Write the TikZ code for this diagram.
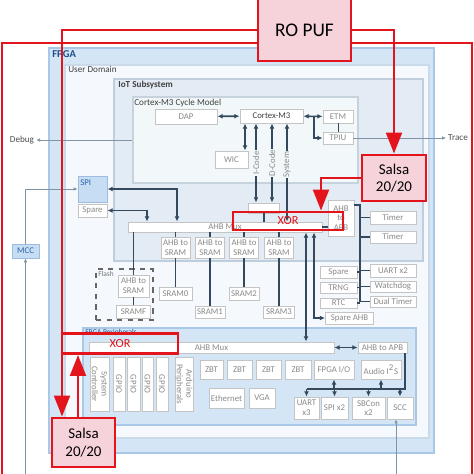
\documentclass[tikz,border=0pt]{standalone}
\usepackage{fontspec}
\setmainfont{Carlito}
\usetikzlibrary{arrows.meta}

\definecolor{fpgafill}{HTML}{D4E5F6}
\definecolor{fpgaline}{HTML}{A9C7E6}
\definecolor{userfill}{HTML}{F5F9FD}
\definecolor{userline}{HTML}{C9DAEA}
\definecolor{iotfill}{HTML}{E3ECF5}
\definecolor{iotline}{HTML}{BFCEDD}
\definecolor{cyclefill}{HTML}{F2F8F9}
\definecolor{cycleline}{HTML}{C6D3DC}
\definecolor{boxline}{HTML}{C4C4C4}
\definecolor{boxtext}{HTML}{8A8A8A}
\definecolor{spifill}{HTML}{C6DDF4}
\definecolor{spiline}{HTML}{9DBDDF}
\definecolor{spitext}{HTML}{2F63A8}
\definecolor{buscol}{HTML}{34495E}
\definecolor{thincol}{HTML}{8193A6}
\definecolor{titleblue}{HTML}{1F4E8C}
\definecolor{pufred}{HTML}{E3141B}
\definecolor{pufpink}{HTML}{F6D3DB}

\begin{document}
\begin{tikzpicture}[x=0.02cm,y=-0.02cm,
    wh/.style 2 args={minimum width=#1*0.02cm,minimum height=#2*0.02cm}]
\useasboundingbox (0,0) rectangle (474,474);

% frames
\begin{scope}[every node/.style={rectangle,inner sep=0pt,line width=0.6pt}]
    \node[fill=fpgafill,draw=fpgaline,wh={385}{405}] (fpga) at (241.5,250.5) {};
    \node[fill=userfill,draw=userline,wh={364}{373}] (user) at (247,251.5) {};
    \node[fill=iotfill,draw=iotline,wh={309}{182}] (iot) at (268.5,170) {};
    \node[fill=cyclefill,draw=cycleline,wh={225}{86}] (cycle) at (245.5,140) {};
    \node[fill=fpgafill,draw=fpgaline,wh={333}{97}] (periph) at (249.5,376.5) {};
    \node[draw=black!60,dashed,line width=0.7pt,wh={57}{51}] (flash) at (124.5,294.5) {};
\end{scope}

% titles
\begin{scope}[every node/.style={anchor=north west,inner sep=0pt,text=black!75,font=\fontsize{5.2}{6}\selectfont}]
    \node[text=titleblue,font=\fontsize{6}{7}\selectfont\bfseries] (fpgatitle) at (52,50) {FPGA};
    \node (usertitle) at (68,66) {User Domain};
    \node[font=\fontsize{5.2}{6}\selectfont\bfseries] (iottitle) at (118,81) {IoT Subsystem};
    \node (cycletitle) at (134,99) {Cortex-M3 Cycle Model};
    \node[text=titleblue,font=\fontsize{4.2}{5}\selectfont] (periphtitle) at (85,329) {FPGA Peripherals};
    \node[text=black!55,font=\fontsize{4.2}{5}\selectfont] (flashtitle) at (98,271) {Flash};
\end{scope}

% blocks
\begin{scope}[every node/.style={rectangle,draw=boxline,fill=white,text=boxtext,inner sep=0pt,
              align=center,line width=0.5pt,font=\fontsize{5}{5.5}\selectfont}]
    \node[wh={62}{15}] (dap) at (186,116.5) {DAP};
    \node[wh={63}{14},text=black!75] (cm3) at (271.5,116) {Cortex-M3};
    \node[wh={30}{13}] (etm) at (338,116.5) {ETM};
    \node[wh={30}{12}] (tpiu) at (338,138) {TPIU};
    \node[wh={33}{17}] (wic) at (231.5,159.5) {WIC};
    \node[wh={31}{10}] (cmux) at (264,208) {};

    \node[wh={29}{13}] (sparea) at (92.5,210.5) {Spare};
    \node[wh={194}{10}] (ahbmux) at (225,227) {AHB Mux};
    \node[wh={26}{36}] (ahbahb) at (341,218) {AHB\\to\\APB};
    \node[wh={29}{21}] (ahbsrama) at (175.5,247.5) {AHB to\\SRAM};
    \node[wh={29}{21}] (ahbsramb) at (210,247.5) {AHB to\\SRAM};
    \node[wh={29}{21}] (ahbsramc) at (244,247.5) {AHB to\\SRAM};
    \node[wh={29}{21}] (ahbsramd) at (279,247.5) {AHB to\\SRAM};
    \node[wh={33}{13}] (srama) at (175.5,293.5) {SRAM0};
    \node[wh={30}{12}] (sramb) at (210,312) {SRAM1};
    \node[wh={30}{13}] (sramc) at (244,293.5) {SRAM2};
    \node[wh={31}{12}] (sramd) at (279,312) {SRAM3};
    \node[wh={31}{22}] (flashsram) at (133.5,286) {AHB to\\SRAM};
    \node[wh={34}{13}] (sramf) at (133.5,311.5) {SRAMF};

    \node[wh={46}{13}] (timera) at (393,217.5) {Timer};
    \node[wh={46}{12}] (timerb) at (393,237) {Timer};
    \node[wh={46}{13}] (uartb) at (393,270.5) {UART x2};
    \node[wh={46}{11}] (wdog) at (393,286.5) {Watchdog};
    \node[wh={46}{11}] (dtimer) at (393,301.5) {Dual Timer};
    \node[wh={37}{12}] (sparec) at (338.5,272) {Spare};
    \node[wh={37}{11}] (trng) at (338.5,287.5) {TRNG};
    \node[wh={37}{10}] (rtc) at (338.5,303) {RTC};
    \node[wh={48}{12}] (spareahb) at (349.5,318) {Spare AHB};

    \node[wh={245}{11}] (pmux) at (211.5,347.5) {AHB Mux};
    \node[wh={49}{11}] (ahbapb) at (382.5,347.5) {AHB to APB};
    \node[wh={54}{19},rotate=-90] (sysctl) at (99.5,384) {System\\Controller};
    \node[wh={54}{12},rotate=-90] (gpioa) at (119,384) {GPIO};
    \node[wh={54}{13},rotate=-90] (gpiob) at (133.5,384) {GPIO};
    \node[wh={54}{11},rotate=-90] (gpioc) at (147.5,384) {GPIO};
    \node[wh={54}{12},rotate=-90] (gpiod) at (162,384) {GPIO};
    \node[wh={54}{18},rotate=-90] (arduino) at (184,384) {Arduino\\Peripherals};
    \node[wh={23}{19}] (zbta) at (211.5,369.5) {ZBT};
    \node[wh={25}{19}] (zbtb) at (239.5,369.5) {ZBT};
    \node[wh={25}{19}] (zbtc) at (268.5,369.5) {ZBT};
    \node[wh={26}{19}] (zbtd) at (298,369.5) {ZBT};
    \node[wh={40}{19}] (fpgaio) at (334,369.5) {FPGA I/O};
    \node[wh={40}{19}] (audio) at (381,369.5) {Audio I\textsuperscript{2}S};
    \node[wh={35}{20}] (eth) at (226.5,398) {Ethernet};
    \node[wh={26}{20}] (vga) at (262,398) {VGA};
    \node[wh={25}{22}] (uartc) at (306.5,408) {UART\\x3};
    \node[wh={27}{22}] (spib) at (334.5,408) {SPI x2};
    \node[wh={33}{22}] (sbcon) at (368.5,408) {SBCon\\x2};
    \node[wh={26}{22}] (scc) at (400,408) {SCC};
\end{scope}

\begin{scope}[every node/.style={rectangle,draw=spiline,fill=spifill,text=spitext,inner sep=0pt,
              line width=0.5pt,font=\fontsize{5}{5.5}\selectfont}]
    \node[wh={29}{26}] (spi) at (92.5,189) {};
    \node[wh={27}{14}] (mcc) at (25.5,251) {MCC};
\end{scope}
\node[anchor=north west,inner sep=0pt,text=spitext,font=\fontsize{5}{5.5}\selectfont] (spititle) at (80,179) {SPI};

% buses
\begin{scope}[>={Latex[length=3pt,width=2.8pt]},
              bus/.style={draw=buscol,line width=0.9pt},
              lbl/.style={rotate=90,fill=cyclefill,text=boxtext,inner sep=0.6pt,font=\fontsize{5}{5}\selectfont},
              every edge/.style={draw=buscol,line width=0.9pt}]
    \path [<->] (dap) edge (cm3);
    \path [<->] (cm3) edge (etm);
    \draw [bus,->] (cm3.east -| 314,0) |- (tpiu.west);
    \draw [bus,line width=0.5pt] (etm) -- (tpiu);
    \path [<->] (cm3.south -| 245,0) edge (wic.north -| 245,0);
    \path [<->] (cm3.south -| 256,0) edge node[lbl] {I-Code} (cmux.north -| 256,0);
    \path [<->] (cm3.south -| 272,0) edge node[lbl] {D-Code} (cmux.north -| 272,0);
    \path [<->] (cm3.south -| 287,0) edge node[lbl,pos=0.42] {System} (ahbmux.north -| 287,0);
    \draw [bus] (cmux.south) -- (cmux.south |- ahbmux.north);

    \draw [bus,<->] (spi.east) -| (ahbmux.north -| 177,0);
    \draw [bus,<->] (sparea.east) -| (ahbmux.north -| 147,0);
    \foreach \n in {ahbsrama,ahbsramb,ahbsramc,ahbsramd,flashsram}
        \draw [bus] (ahbmux.south -| \n) -- (\n.north);
    \draw [bus] (ahbsrama) -- (srama);
    \draw [bus] (ahbsramb) -- (sramb);
    \draw [bus] (ahbsramc) -- (sramc);
    \draw [bus] (ahbsramd) -- (sramd);
    \draw [bus] (flashsram) -- (sramf);

    \draw [bus] (ahbmux.east) -- (ahbmux.east -| ahbahb.west);
    \coordinate (busr) at (360,205);
    \draw [bus] (ahbahb.east |- busr) -- (busr) -- (busr |- dtimer);
    \foreach \n in {timera,timerb,uartb,wdog,dtimer}
        \draw [bus] (busr |- \n) -- (\n.west);
    \foreach \n in {sparec,trng,rtc}
        \draw [bus] (busr |- \n) -- (\n.east);

    \path [<->] (ahbmux.south -| 306,0) edge (pmux.north -| 306,0);
    \draw [bus,<->] (ahbmux.south -| 314,0) |- (spareahb.west);
    \path [<->] (pmux) edge (ahbapb);
    \coordinate (busl) at (405,389);
    \draw [bus] (ahbapb.south -| busl) -- (busl) -- (busl -| uartc);
    \foreach \n in {uartc,spib,sbcon,scc}
        \draw [bus,->] (busl -| \n) -- (\n.north);
    \foreach \n in {fpgaio,audio}
        \draw [bus,->] (busl -| \n) -- (\n.south);
\end{scope}

% debug, trace, MCC
\begin{scope}[>={Latex[length=2.2pt,width=2pt]},
              every node/.style={text=black!70,inner sep=1pt,font=\fontsize{5.2}{6}\selectfont},
              every edge/.style={draw=thincol,line width=0.4pt}]
    \node (debug) at (22,140) {Debug};
    \node (trace) at (458,138) {Trace};
    \path [->] (cycle.west |- debug) edge (debug);
    \path [->] (tpiu) edge (trace);
    \draw [thincol,line width=0.4pt,->] (mcc.north) |- (spi.west);
    \coordinate (mccin) at (25.5,474);
    \path [->] (mccin) edge (mcc);
    \coordinate (sccin) at (396,474);
    \path [->] (sccin) edge (sccin |- scc.south);
\end{scope}

% RO PUF and Salsa20/20
\begin{scope}[>={Triangle[length=12pt,width=9pt]},
              redline/.style={draw=pufred,line width=1.6pt},
              every node/.style={draw=pufred,line width=1.6pt,fill=pufpink,align=center,inner sep=0pt,
                                 font=\fontsize{8.5}{10}\selectfont}]
    \draw [redline] (2,43) rectangle (472,490);
    \node[wh={93}{62},font=\fontsize{11}{12}\selectfont] (puf) at (304.5,30) {RO PUF};
    \node[wh={64}{46}] (salsaa) at (394,178) {Salsa\\20/20};
    \node[wh={63}{49}] (salsab) at (83.5,442.5) {Salsa\\20/20};
    \node[fill=none,text=pufred,wh={110}{18},font=\fontsize{7}{8}\selectfont] (xora) at (288,221) {\raisebox{-1.5pt}{XOR}};
    \node[fill=none,text=pufred,wh={116}{20},font=\fontsize{7}{8}\selectfont] (xorb) at (120,343.5) {\raisebox{-1.5pt}{XOR}};

    \draw [redline,->] (puf.west) -| (salsab.north -| 62,0);
    \draw [redline,->] (puf.east) -| (salsaa.north);
    \draw [redline,->] (salsaa.west) -| (xora.north -| 321,0);
    \draw [redline,->] (salsab.north -| 78,0) -- (xorb.south -| 78,0);
\end{scope}
\end{tikzpicture}
\end{document}
